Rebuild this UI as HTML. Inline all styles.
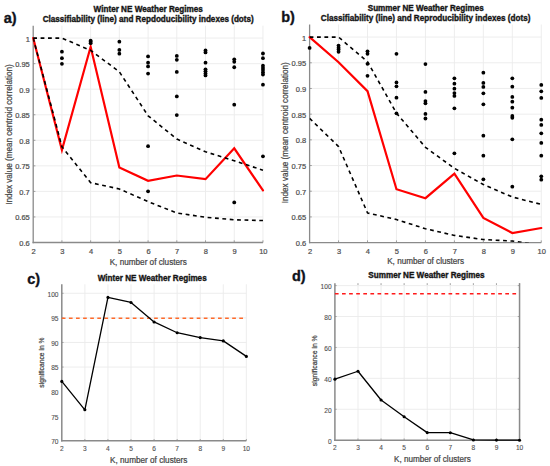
<!DOCTYPE html>
<html><head><meta charset="utf-8"><style>
html,body{margin:0;padding:0;background:#fff;overflow:hidden;}
svg{display:block;font-family:"Liberation Sans", sans-serif;}
</style></head><body>
<svg width="550" height="466" viewBox="0 0 550 466">
<rect width="550" height="466" fill="#fff"/>
<line x1="61.92" y1="25.70" x2="61.92" y2="242.50" stroke="#ebebeb" stroke-width="0.9" />
<line x1="90.64" y1="25.70" x2="90.64" y2="242.50" stroke="#ebebeb" stroke-width="0.9" />
<line x1="119.36" y1="25.70" x2="119.36" y2="242.50" stroke="#ebebeb" stroke-width="0.9" />
<line x1="148.08" y1="25.70" x2="148.08" y2="242.50" stroke="#ebebeb" stroke-width="0.9" />
<line x1="176.80" y1="25.70" x2="176.80" y2="242.50" stroke="#ebebeb" stroke-width="0.9" />
<line x1="205.52" y1="25.70" x2="205.52" y2="242.50" stroke="#ebebeb" stroke-width="0.9" />
<line x1="234.24" y1="25.70" x2="234.24" y2="242.50" stroke="#ebebeb" stroke-width="0.9" />
<line x1="262.96" y1="25.70" x2="262.96" y2="242.50" stroke="#ebebeb" stroke-width="0.9" />
<line x1="33.20" y1="216.95" x2="262.96" y2="216.95" stroke="#ebebeb" stroke-width="0.9" />
<line x1="33.20" y1="191.40" x2="262.96" y2="191.40" stroke="#ebebeb" stroke-width="0.9" />
<line x1="33.20" y1="165.85" x2="262.96" y2="165.85" stroke="#ebebeb" stroke-width="0.9" />
<line x1="33.20" y1="140.30" x2="262.96" y2="140.30" stroke="#ebebeb" stroke-width="0.9" />
<line x1="33.20" y1="114.75" x2="262.96" y2="114.75" stroke="#ebebeb" stroke-width="0.9" />
<line x1="33.20" y1="89.20" x2="262.96" y2="89.20" stroke="#ebebeb" stroke-width="0.9" />
<line x1="33.20" y1="63.65" x2="262.96" y2="63.65" stroke="#ebebeb" stroke-width="0.9" />
<line x1="33.20" y1="38.10" x2="262.96" y2="38.10" stroke="#ebebeb" stroke-width="0.9" />
<line x1="61.92" y1="242.50" x2="61.92" y2="240.30" stroke="#8a8a8a" stroke-width="0.8" />
<line x1="90.64" y1="242.50" x2="90.64" y2="240.30" stroke="#8a8a8a" stroke-width="0.8" />
<line x1="119.36" y1="242.50" x2="119.36" y2="240.30" stroke="#8a8a8a" stroke-width="0.8" />
<line x1="148.08" y1="242.50" x2="148.08" y2="240.30" stroke="#8a8a8a" stroke-width="0.8" />
<line x1="176.80" y1="242.50" x2="176.80" y2="240.30" stroke="#8a8a8a" stroke-width="0.8" />
<line x1="205.52" y1="242.50" x2="205.52" y2="240.30" stroke="#8a8a8a" stroke-width="0.8" />
<line x1="234.24" y1="242.50" x2="234.24" y2="240.30" stroke="#8a8a8a" stroke-width="0.8" />
<line x1="262.96" y1="242.50" x2="262.96" y2="240.30" stroke="#8a8a8a" stroke-width="0.8" />
<line x1="33.20" y1="216.95" x2="35.40" y2="216.95" stroke="#8a8a8a" stroke-width="0.8" />
<line x1="33.20" y1="191.40" x2="35.40" y2="191.40" stroke="#8a8a8a" stroke-width="0.8" />
<line x1="33.20" y1="165.85" x2="35.40" y2="165.85" stroke="#8a8a8a" stroke-width="0.8" />
<line x1="33.20" y1="140.30" x2="35.40" y2="140.30" stroke="#8a8a8a" stroke-width="0.8" />
<line x1="33.20" y1="114.75" x2="35.40" y2="114.75" stroke="#8a8a8a" stroke-width="0.8" />
<line x1="33.20" y1="89.20" x2="35.40" y2="89.20" stroke="#8a8a8a" stroke-width="0.8" />
<line x1="33.20" y1="63.65" x2="35.40" y2="63.65" stroke="#8a8a8a" stroke-width="0.8" />
<line x1="33.20" y1="38.10" x2="35.40" y2="38.10" stroke="#8a8a8a" stroke-width="0.8" />
<line x1="33.20" y1="25.70" x2="33.20" y2="243.15" stroke="#8a8a8a" stroke-width="1.3" />
<line x1="32.55" y1="242.50" x2="262.96" y2="242.50" stroke="#8a8a8a" stroke-width="1.3" />
<polyline points="33.20,38.10 61.92,150.01 90.64,46.79 119.36,167.59 148.08,180.82 176.80,175.51 205.52,179.19 234.24,148.32 262.96,190.38" fill="none" stroke="#ff0000" stroke-width="2.2" stroke-linejoin="round" stroke-linecap="round" style="stroke-linejoin:miter;stroke-miterlimit:6"/>
<clipPath id="ca"><rect x="33.20" y="25.70" width="232.76" height="216.80"/></clipPath>
<g clip-path="url(#ca)">
<polyline points="33.20,38.10 61.92,38.10 90.64,50.36 119.36,71.83 148.08,115.77 176.80,139.02 205.52,151.80 234.24,160.74 262.96,170.19" fill="none" stroke="#000" stroke-width="1.6" stroke-linejoin="round" stroke-dasharray="3.8 3.6"/>
<polyline points="33.20,38.10 61.92,146.69 90.64,182.71 119.36,189.00 148.08,201.62 176.80,213.02 205.52,217.26 234.24,219.76 262.96,220.53" fill="none" stroke="#000" stroke-width="1.6" stroke-linejoin="round" stroke-dasharray="3.8 3.6"/>
</g>
<circle cx="61.92" cy="51.69" r="1.9" fill="#000"/>
<circle cx="61.92" cy="58.18" r="1.9" fill="#000"/>
<circle cx="61.92" cy="63.80" r="1.9" fill="#000"/>
<circle cx="90.64" cy="40.66" r="1.9" fill="#000"/>
<circle cx="90.64" cy="41.68" r="1.9" fill="#000"/>
<circle cx="90.64" cy="43.21" r="1.9" fill="#000"/>
<circle cx="119.36" cy="41.68" r="1.9" fill="#000"/>
<circle cx="119.36" cy="49.90" r="1.9" fill="#000"/>
<circle cx="119.36" cy="53.69" r="1.9" fill="#000"/>
<circle cx="148.08" cy="56.39" r="1.9" fill="#000"/>
<circle cx="148.08" cy="62.63" r="1.9" fill="#000"/>
<circle cx="148.08" cy="66.41" r="1.9" fill="#000"/>
<circle cx="148.08" cy="73.61" r="1.9" fill="#000"/>
<circle cx="148.08" cy="146.18" r="1.9" fill="#000"/>
<circle cx="148.08" cy="191.30" r="1.9" fill="#000"/>
<circle cx="176.80" cy="55.88" r="1.9" fill="#000"/>
<circle cx="176.80" cy="59.82" r="1.9" fill="#000"/>
<circle cx="176.80" cy="71.88" r="1.9" fill="#000"/>
<circle cx="176.80" cy="96.41" r="1.9" fill="#000"/>
<circle cx="176.80" cy="115.11" r="1.9" fill="#000"/>
<circle cx="205.52" cy="50.42" r="1.9" fill="#000"/>
<circle cx="205.52" cy="52.41" r="1.9" fill="#000"/>
<circle cx="205.52" cy="62.63" r="1.9" fill="#000"/>
<circle cx="205.52" cy="69.30" r="1.9" fill="#000"/>
<circle cx="205.52" cy="71.30" r="1.9" fill="#000"/>
<circle cx="205.52" cy="73.40" r="1.9" fill="#000"/>
<circle cx="205.52" cy="75.40" r="1.9" fill="#000"/>
<circle cx="234.24" cy="59.31" r="1.9" fill="#000"/>
<circle cx="234.24" cy="61.81" r="1.9" fill="#000"/>
<circle cx="234.24" cy="67.23" r="1.9" fill="#000"/>
<circle cx="234.24" cy="104.68" r="1.9" fill="#000"/>
<circle cx="234.24" cy="202.39" r="1.9" fill="#000"/>
<circle cx="262.96" cy="53.48" r="1.9" fill="#000"/>
<circle cx="262.96" cy="58.18" r="1.9" fill="#000"/>
<circle cx="262.96" cy="65.70" r="1.9" fill="#000"/>
<circle cx="262.96" cy="67.90" r="1.9" fill="#000"/>
<circle cx="262.96" cy="70.10" r="1.9" fill="#000"/>
<circle cx="262.96" cy="72.30" r="1.9" fill="#000"/>
<circle cx="262.96" cy="74.50" r="1.9" fill="#000"/>
<circle cx="262.96" cy="84.70" r="1.9" fill="#000"/>
<circle cx="262.96" cy="156.29" r="1.9" fill="#000"/>
<text transform="translate(33.60,253.80)" font-size="7.5" fill="#505050" text-anchor="middle" font-weight="normal" stroke="#505050" stroke-width="0.22">2</text>
<text transform="translate(62.32,253.80)" font-size="7.5" fill="#505050" text-anchor="middle" font-weight="normal" stroke="#505050" stroke-width="0.22">3</text>
<text transform="translate(91.04,253.80)" font-size="7.5" fill="#505050" text-anchor="middle" font-weight="normal" stroke="#505050" stroke-width="0.22">4</text>
<text transform="translate(119.76,253.80)" font-size="7.5" fill="#505050" text-anchor="middle" font-weight="normal" stroke="#505050" stroke-width="0.22">5</text>
<text transform="translate(148.48,253.80)" font-size="7.5" fill="#505050" text-anchor="middle" font-weight="normal" stroke="#505050" stroke-width="0.22">6</text>
<text transform="translate(177.20,253.80)" font-size="7.5" fill="#505050" text-anchor="middle" font-weight="normal" stroke="#505050" stroke-width="0.22">7</text>
<text transform="translate(205.92,253.80)" font-size="7.5" fill="#505050" text-anchor="middle" font-weight="normal" stroke="#505050" stroke-width="0.22">8</text>
<text transform="translate(234.64,253.80)" font-size="7.5" fill="#505050" text-anchor="middle" font-weight="normal" stroke="#505050" stroke-width="0.22">9</text>
<text transform="translate(263.36,253.80)" font-size="7.5" fill="#505050" text-anchor="middle" font-weight="normal" stroke="#505050" stroke-width="0.22">10</text>
<text transform="translate(29.80,246.00)" font-size="7.5" fill="#505050" text-anchor="end" font-weight="normal" stroke="#505050" stroke-width="0.22">0.6</text>
<text transform="translate(29.80,220.45)" font-size="7.5" fill="#505050" text-anchor="end" font-weight="normal" stroke="#505050" stroke-width="0.22">0.65</text>
<text transform="translate(29.80,194.90)" font-size="7.5" fill="#505050" text-anchor="end" font-weight="normal" stroke="#505050" stroke-width="0.22">0.7</text>
<text transform="translate(29.80,169.35)" font-size="7.5" fill="#505050" text-anchor="end" font-weight="normal" stroke="#505050" stroke-width="0.22">0.75</text>
<text transform="translate(29.80,143.80)" font-size="7.5" fill="#505050" text-anchor="end" font-weight="normal" stroke="#505050" stroke-width="0.22">0.8</text>
<text transform="translate(29.80,118.25)" font-size="7.5" fill="#505050" text-anchor="end" font-weight="normal" stroke="#505050" stroke-width="0.22">0.85</text>
<text transform="translate(29.80,92.70)" font-size="7.5" fill="#505050" text-anchor="end" font-weight="normal" stroke="#505050" stroke-width="0.22">0.9</text>
<text transform="translate(29.80,67.15)" font-size="7.5" fill="#505050" text-anchor="end" font-weight="normal" stroke="#505050" stroke-width="0.22">0.95</text>
<text transform="translate(29.80,41.60)" font-size="7.5" fill="#505050" text-anchor="end" font-weight="normal" stroke="#505050" stroke-width="0.22">1</text>
<text transform="translate(148.20,11.60) scale(1,1.1)" font-size="8.1" fill="#151515" text-anchor="middle" font-weight="bold" textLength="109.20" lengthAdjust="spacingAndGlyphs" stroke="#151515" stroke-width="0.35">Winter NE Weather Regimes</text>
<text transform="translate(148.20,21.80) scale(1,1.1)" font-size="8.1" fill="#151515" text-anchor="middle" font-weight="bold" textLength="211.00" lengthAdjust="spacingAndGlyphs" stroke="#151515" stroke-width="0.35">Classifiability (line) and Repdoducibility indexes (dots)</text>
<text transform="translate(3.80,23.00)" font-size="14.5" fill="#10121a" text-anchor="start" font-weight="bold" stroke="#10121a" stroke-width="0.35">a)</text>
<text transform="translate(11.80,134.50) rotate(-90)" font-size="8.2" fill="#454545" text-anchor="middle" font-weight="normal" textLength="140.50" lengthAdjust="spacingAndGlyphs" stroke="#454545" stroke-width="0.22">Index value (mean centroid correlation)</text>
<text transform="translate(148.25,264.60) scale(1,1.04)" font-size="8.1" fill="#454545" text-anchor="middle" font-weight="normal" textLength="77.20" lengthAdjust="spacingAndGlyphs" stroke="#454545" stroke-width="0.22">K, number of clusters</text>
<line x1="338.56" y1="24.50" x2="338.56" y2="242.60" stroke="#ebebeb" stroke-width="0.9" />
<line x1="367.52" y1="24.50" x2="367.52" y2="242.60" stroke="#ebebeb" stroke-width="0.9" />
<line x1="396.48" y1="24.50" x2="396.48" y2="242.60" stroke="#ebebeb" stroke-width="0.9" />
<line x1="425.44" y1="24.50" x2="425.44" y2="242.60" stroke="#ebebeb" stroke-width="0.9" />
<line x1="454.40" y1="24.50" x2="454.40" y2="242.60" stroke="#ebebeb" stroke-width="0.9" />
<line x1="483.36" y1="24.50" x2="483.36" y2="242.60" stroke="#ebebeb" stroke-width="0.9" />
<line x1="512.32" y1="24.50" x2="512.32" y2="242.60" stroke="#ebebeb" stroke-width="0.9" />
<line x1="541.28" y1="24.50" x2="541.28" y2="242.60" stroke="#ebebeb" stroke-width="0.9" />
<line x1="309.60" y1="216.91" x2="541.28" y2="216.91" stroke="#ebebeb" stroke-width="0.9" />
<line x1="309.60" y1="191.23" x2="541.28" y2="191.23" stroke="#ebebeb" stroke-width="0.9" />
<line x1="309.60" y1="165.54" x2="541.28" y2="165.54" stroke="#ebebeb" stroke-width="0.9" />
<line x1="309.60" y1="139.85" x2="541.28" y2="139.85" stroke="#ebebeb" stroke-width="0.9" />
<line x1="309.60" y1="114.16" x2="541.28" y2="114.16" stroke="#ebebeb" stroke-width="0.9" />
<line x1="309.60" y1="88.47" x2="541.28" y2="88.47" stroke="#ebebeb" stroke-width="0.9" />
<line x1="309.60" y1="62.79" x2="541.28" y2="62.79" stroke="#ebebeb" stroke-width="0.9" />
<line x1="309.60" y1="37.10" x2="541.28" y2="37.10" stroke="#ebebeb" stroke-width="0.9" />
<line x1="338.56" y1="242.60" x2="338.56" y2="240.40" stroke="#8a8a8a" stroke-width="0.8" />
<line x1="367.52" y1="242.60" x2="367.52" y2="240.40" stroke="#8a8a8a" stroke-width="0.8" />
<line x1="396.48" y1="242.60" x2="396.48" y2="240.40" stroke="#8a8a8a" stroke-width="0.8" />
<line x1="425.44" y1="242.60" x2="425.44" y2="240.40" stroke="#8a8a8a" stroke-width="0.8" />
<line x1="454.40" y1="242.60" x2="454.40" y2="240.40" stroke="#8a8a8a" stroke-width="0.8" />
<line x1="483.36" y1="242.60" x2="483.36" y2="240.40" stroke="#8a8a8a" stroke-width="0.8" />
<line x1="512.32" y1="242.60" x2="512.32" y2="240.40" stroke="#8a8a8a" stroke-width="0.8" />
<line x1="541.28" y1="242.60" x2="541.28" y2="240.40" stroke="#8a8a8a" stroke-width="0.8" />
<line x1="309.60" y1="216.91" x2="311.80" y2="216.91" stroke="#8a8a8a" stroke-width="0.8" />
<line x1="309.60" y1="191.23" x2="311.80" y2="191.23" stroke="#8a8a8a" stroke-width="0.8" />
<line x1="309.60" y1="165.54" x2="311.80" y2="165.54" stroke="#8a8a8a" stroke-width="0.8" />
<line x1="309.60" y1="139.85" x2="311.80" y2="139.85" stroke="#8a8a8a" stroke-width="0.8" />
<line x1="309.60" y1="114.16" x2="311.80" y2="114.16" stroke="#8a8a8a" stroke-width="0.8" />
<line x1="309.60" y1="88.47" x2="311.80" y2="88.47" stroke="#8a8a8a" stroke-width="0.8" />
<line x1="309.60" y1="62.79" x2="311.80" y2="62.79" stroke="#8a8a8a" stroke-width="0.8" />
<line x1="309.60" y1="37.10" x2="311.80" y2="37.10" stroke="#8a8a8a" stroke-width="0.8" />
<line x1="309.60" y1="24.50" x2="309.60" y2="243.25" stroke="#8a8a8a" stroke-width="1.3" />
<line x1="308.95" y1="242.60" x2="541.28" y2="242.60" stroke="#8a8a8a" stroke-width="1.3" />
<polyline points="309.60,37.10 338.56,62.27 367.52,91.15 396.48,189.22 425.44,198.21 454.40,173.76 483.36,217.94 512.32,232.99 541.28,228.01" fill="none" stroke="#ff0000" stroke-width="2.2" stroke-linejoin="round" stroke-linecap="round" style="stroke-linejoin:miter;stroke-miterlimit:6"/>
<clipPath id="cb"><rect x="309.60" y="24.50" width="234.68" height="218.10"/></clipPath>
<g clip-path="url(#cb)">
<polyline points="309.60,37.10 338.56,37.10 367.52,61.76 396.48,113.13 425.44,147.30 454.40,168.36 483.36,184.55 512.32,197.03 541.28,204.38" fill="none" stroke="#000" stroke-width="1.6" stroke-linejoin="round" stroke-dasharray="3.8 3.6"/>
<polyline points="309.60,118.38 338.56,146.58 367.52,212.91 396.48,219.58 425.44,228.73 454.40,235.41 483.36,239.52 512.32,241.06 541.28,245.17" fill="none" stroke="#000" stroke-width="1.6" stroke-linejoin="round" stroke-dasharray="3.8 3.6"/>
</g>
<circle cx="309.60" cy="47.89" r="1.9" fill="#000"/>
<circle cx="338.56" cy="45.58" r="1.9" fill="#000"/>
<circle cx="338.56" cy="47.79" r="1.9" fill="#000"/>
<circle cx="338.56" cy="49.48" r="1.9" fill="#000"/>
<circle cx="338.56" cy="51.79" r="1.9" fill="#000"/>
<circle cx="367.52" cy="51.30" r="1.9" fill="#000"/>
<circle cx="367.52" cy="53.80" r="1.9" fill="#000"/>
<circle cx="367.52" cy="63.80" r="1.9" fill="#000"/>
<circle cx="367.52" cy="75.80" r="1.9" fill="#000"/>
<circle cx="396.48" cy="53.80" r="1.9" fill="#000"/>
<circle cx="396.48" cy="82.40" r="1.9" fill="#000"/>
<circle cx="396.48" cy="86.30" r="1.9" fill="#000"/>
<circle cx="396.48" cy="97.70" r="1.9" fill="#000"/>
<circle cx="396.48" cy="113.30" r="1.9" fill="#000"/>
<circle cx="425.44" cy="64.10" r="1.9" fill="#000"/>
<circle cx="425.44" cy="91.90" r="1.9" fill="#000"/>
<circle cx="425.44" cy="101.10" r="1.9" fill="#000"/>
<circle cx="425.44" cy="103.30" r="1.9" fill="#000"/>
<circle cx="425.44" cy="113.90" r="1.9" fill="#000"/>
<circle cx="425.44" cy="118.50" r="1.9" fill="#000"/>
<circle cx="454.40" cy="78.30" r="1.9" fill="#000"/>
<circle cx="454.40" cy="83.70" r="1.9" fill="#000"/>
<circle cx="454.40" cy="88.70" r="1.9" fill="#000"/>
<circle cx="454.40" cy="93.10" r="1.9" fill="#000"/>
<circle cx="454.40" cy="95.90" r="1.9" fill="#000"/>
<circle cx="454.40" cy="108.30" r="1.9" fill="#000"/>
<circle cx="454.40" cy="153.30" r="1.9" fill="#000"/>
<circle cx="483.36" cy="72.70" r="1.9" fill="#000"/>
<circle cx="483.36" cy="82.90" r="1.9" fill="#000"/>
<circle cx="483.36" cy="86.90" r="1.9" fill="#000"/>
<circle cx="483.36" cy="93.30" r="1.9" fill="#000"/>
<circle cx="483.36" cy="104.30" r="1.9" fill="#000"/>
<circle cx="483.36" cy="135.70" r="1.9" fill="#000"/>
<circle cx="483.36" cy="155.70" r="1.9" fill="#000"/>
<circle cx="483.36" cy="179.30" r="1.9" fill="#000"/>
<circle cx="512.32" cy="78.30" r="1.9" fill="#000"/>
<circle cx="512.32" cy="86.70" r="1.9" fill="#000"/>
<circle cx="512.32" cy="96.90" r="1.9" fill="#000"/>
<circle cx="512.32" cy="101.70" r="1.9" fill="#000"/>
<circle cx="512.32" cy="107.70" r="1.9" fill="#000"/>
<circle cx="512.32" cy="115.90" r="1.9" fill="#000"/>
<circle cx="512.32" cy="117.80" r="1.9" fill="#000"/>
<circle cx="512.32" cy="139.30" r="1.9" fill="#000"/>
<circle cx="512.32" cy="186.70" r="1.9" fill="#000"/>
<circle cx="541.28" cy="84.90" r="1.9" fill="#000"/>
<circle cx="541.28" cy="91.30" r="1.9" fill="#000"/>
<circle cx="541.28" cy="97.90" r="1.9" fill="#000"/>
<circle cx="541.28" cy="119.70" r="1.9" fill="#000"/>
<circle cx="541.28" cy="124.90" r="1.9" fill="#000"/>
<circle cx="541.28" cy="133.30" r="1.9" fill="#000"/>
<circle cx="541.28" cy="142.90" r="1.9" fill="#000"/>
<circle cx="541.28" cy="155.70" r="1.9" fill="#000"/>
<circle cx="541.28" cy="176.30" r="1.9" fill="#000"/>
<circle cx="541.28" cy="179.70" r="1.9" fill="#000"/>
<text transform="translate(310.00,253.90)" font-size="7.5" fill="#505050" text-anchor="middle" font-weight="normal" stroke="#505050" stroke-width="0.22">2</text>
<text transform="translate(338.96,253.90)" font-size="7.5" fill="#505050" text-anchor="middle" font-weight="normal" stroke="#505050" stroke-width="0.22">3</text>
<text transform="translate(367.92,253.90)" font-size="7.5" fill="#505050" text-anchor="middle" font-weight="normal" stroke="#505050" stroke-width="0.22">4</text>
<text transform="translate(396.88,253.90)" font-size="7.5" fill="#505050" text-anchor="middle" font-weight="normal" stroke="#505050" stroke-width="0.22">5</text>
<text transform="translate(425.84,253.90)" font-size="7.5" fill="#505050" text-anchor="middle" font-weight="normal" stroke="#505050" stroke-width="0.22">6</text>
<text transform="translate(454.80,253.90)" font-size="7.5" fill="#505050" text-anchor="middle" font-weight="normal" stroke="#505050" stroke-width="0.22">7</text>
<text transform="translate(483.76,253.90)" font-size="7.5" fill="#505050" text-anchor="middle" font-weight="normal" stroke="#505050" stroke-width="0.22">8</text>
<text transform="translate(512.72,253.90)" font-size="7.5" fill="#505050" text-anchor="middle" font-weight="normal" stroke="#505050" stroke-width="0.22">9</text>
<text transform="translate(541.68,253.90)" font-size="7.5" fill="#505050" text-anchor="middle" font-weight="normal" stroke="#505050" stroke-width="0.22">10</text>
<text transform="translate(306.20,246.10)" font-size="7.5" fill="#505050" text-anchor="end" font-weight="normal" stroke="#505050" stroke-width="0.22">0.6</text>
<text transform="translate(306.20,220.41)" font-size="7.5" fill="#505050" text-anchor="end" font-weight="normal" stroke="#505050" stroke-width="0.22">0.65</text>
<text transform="translate(306.20,194.73)" font-size="7.5" fill="#505050" text-anchor="end" font-weight="normal" stroke="#505050" stroke-width="0.22">0.7</text>
<text transform="translate(306.20,169.04)" font-size="7.5" fill="#505050" text-anchor="end" font-weight="normal" stroke="#505050" stroke-width="0.22">0.75</text>
<text transform="translate(306.20,143.35)" font-size="7.5" fill="#505050" text-anchor="end" font-weight="normal" stroke="#505050" stroke-width="0.22">0.8</text>
<text transform="translate(306.20,117.66)" font-size="7.5" fill="#505050" text-anchor="end" font-weight="normal" stroke="#505050" stroke-width="0.22">0.85</text>
<text transform="translate(306.20,91.97)" font-size="7.5" fill="#505050" text-anchor="end" font-weight="normal" stroke="#505050" stroke-width="0.22">0.9</text>
<text transform="translate(306.20,66.29)" font-size="7.5" fill="#505050" text-anchor="end" font-weight="normal" stroke="#505050" stroke-width="0.22">0.95</text>
<text transform="translate(306.20,40.60)" font-size="7.5" fill="#505050" text-anchor="end" font-weight="normal" stroke="#505050" stroke-width="0.22">1</text>
<text transform="translate(425.70,10.50) scale(1,1.1)" font-size="8.1" fill="#151515" text-anchor="middle" font-weight="bold" textLength="115.90" lengthAdjust="spacingAndGlyphs" stroke="#151515" stroke-width="0.35">Summer NE Weather Regimes</text>
<text transform="translate(425.60,21.30) scale(1,1.1)" font-size="8.1" fill="#151515" text-anchor="middle" font-weight="bold" textLength="209.70" lengthAdjust="spacingAndGlyphs" stroke="#151515" stroke-width="0.35">Classifiability (line) and Reproducibility indexes (dots)</text>
<text transform="translate(281.20,21.60)" font-size="14.5" fill="#10121a" text-anchor="start" font-weight="bold" stroke="#10121a" stroke-width="0.35">b)</text>
<text transform="translate(288.10,132.75) rotate(-90)" font-size="8.2" fill="#454545" text-anchor="middle" font-weight="normal" textLength="141.00" lengthAdjust="spacingAndGlyphs" stroke="#454545" stroke-width="0.22">Index value (mean centroid correlation)</text>
<text transform="translate(425.65,264.40) scale(1,1.04)" font-size="8.1" fill="#454545" text-anchor="middle" font-weight="normal" textLength="77.00" lengthAdjust="spacingAndGlyphs" stroke="#454545" stroke-width="0.22">K, number of clusters</text>
<line x1="84.87" y1="284.30" x2="84.87" y2="440.80" stroke="#ebebeb" stroke-width="0.9" />
<line x1="107.94" y1="284.30" x2="107.94" y2="440.80" stroke="#ebebeb" stroke-width="0.9" />
<line x1="131.01" y1="284.30" x2="131.01" y2="440.80" stroke="#ebebeb" stroke-width="0.9" />
<line x1="154.08" y1="284.30" x2="154.08" y2="440.80" stroke="#ebebeb" stroke-width="0.9" />
<line x1="177.15" y1="284.30" x2="177.15" y2="440.80" stroke="#ebebeb" stroke-width="0.9" />
<line x1="200.22" y1="284.30" x2="200.22" y2="440.80" stroke="#ebebeb" stroke-width="0.9" />
<line x1="223.29" y1="284.30" x2="223.29" y2="440.80" stroke="#ebebeb" stroke-width="0.9" />
<line x1="246.36" y1="284.30" x2="246.36" y2="440.80" stroke="#ebebeb" stroke-width="0.9" />
<line x1="61.80" y1="367.05" x2="246.36" y2="367.05" stroke="#ebebeb" stroke-width="0.9" />
<line x1="61.80" y1="342.46" x2="246.36" y2="342.46" stroke="#ebebeb" stroke-width="0.9" />
<line x1="61.80" y1="317.88" x2="246.36" y2="317.88" stroke="#ebebeb" stroke-width="0.9" />
<line x1="61.80" y1="293.29" x2="246.36" y2="293.29" stroke="#ebebeb" stroke-width="0.9" />
<line x1="84.87" y1="440.80" x2="84.87" y2="439.00" stroke="#8a8a8a" stroke-width="0.7" />
<line x1="107.94" y1="440.80" x2="107.94" y2="439.00" stroke="#8a8a8a" stroke-width="0.7" />
<line x1="131.01" y1="440.80" x2="131.01" y2="439.00" stroke="#8a8a8a" stroke-width="0.7" />
<line x1="154.08" y1="440.80" x2="154.08" y2="439.00" stroke="#8a8a8a" stroke-width="0.7" />
<line x1="177.15" y1="440.80" x2="177.15" y2="439.00" stroke="#8a8a8a" stroke-width="0.7" />
<line x1="200.22" y1="440.80" x2="200.22" y2="439.00" stroke="#8a8a8a" stroke-width="0.7" />
<line x1="223.29" y1="440.80" x2="223.29" y2="439.00" stroke="#8a8a8a" stroke-width="0.7" />
<line x1="246.36" y1="440.80" x2="246.36" y2="439.00" stroke="#8a8a8a" stroke-width="0.7" />
<line x1="61.80" y1="367.05" x2="63.60" y2="367.05" stroke="#8a8a8a" stroke-width="0.7" />
<line x1="61.80" y1="342.46" x2="63.60" y2="342.46" stroke="#8a8a8a" stroke-width="0.7" />
<line x1="61.80" y1="317.88" x2="63.60" y2="317.88" stroke="#8a8a8a" stroke-width="0.7" />
<line x1="61.80" y1="293.29" x2="63.60" y2="293.29" stroke="#8a8a8a" stroke-width="0.7" />
<line x1="61.80" y1="284.30" x2="61.80" y2="441.50" stroke="#8a8a8a" stroke-width="1.5" />
<line x1="61.10" y1="440.80" x2="246.36" y2="440.80" stroke="#8a8a8a" stroke-width="1.5" />
<line x1="61.80" y1="318.18" x2="246.36" y2="318.18" stroke="#ff6a2a" stroke-width="1.5" stroke-dasharray="3.7 3.4"/>
<polyline points="61.80,381.40 84.87,409.82 107.94,297.42 131.01,302.48 154.08,321.96 177.15,332.72 200.22,337.59 223.29,340.89 246.36,356.38" fill="none" stroke="#000" stroke-width="1.3" stroke-linejoin="round" />
<circle cx="61.80" cy="381.40" r="1.55" fill="#000"/>
<circle cx="84.87" cy="409.82" r="1.55" fill="#000"/>
<circle cx="107.94" cy="297.42" r="1.55" fill="#000"/>
<circle cx="131.01" cy="302.48" r="1.55" fill="#000"/>
<circle cx="154.08" cy="321.96" r="1.55" fill="#000"/>
<circle cx="177.15" cy="332.72" r="1.55" fill="#000"/>
<circle cx="200.22" cy="337.59" r="1.55" fill="#000"/>
<circle cx="223.29" cy="340.89" r="1.55" fill="#000"/>
<circle cx="246.36" cy="356.38" r="1.55" fill="#000"/>
<text transform="translate(61.80,450.60) scale(1,1.05)" font-size="6.6" fill="#505050" text-anchor="middle" font-weight="normal" stroke="#505050" stroke-width="0.1">2</text>
<text transform="translate(84.87,450.60) scale(1,1.05)" font-size="6.6" fill="#505050" text-anchor="middle" font-weight="normal" stroke="#505050" stroke-width="0.1">3</text>
<text transform="translate(107.94,450.60) scale(1,1.05)" font-size="6.6" fill="#505050" text-anchor="middle" font-weight="normal" stroke="#505050" stroke-width="0.1">4</text>
<text transform="translate(131.01,450.60) scale(1,1.05)" font-size="6.6" fill="#505050" text-anchor="middle" font-weight="normal" stroke="#505050" stroke-width="0.1">5</text>
<text transform="translate(154.08,450.60) scale(1,1.05)" font-size="6.6" fill="#505050" text-anchor="middle" font-weight="normal" stroke="#505050" stroke-width="0.1">6</text>
<text transform="translate(177.15,450.60) scale(1,1.05)" font-size="6.6" fill="#505050" text-anchor="middle" font-weight="normal" stroke="#505050" stroke-width="0.1">7</text>
<text transform="translate(200.22,450.60) scale(1,1.05)" font-size="6.6" fill="#505050" text-anchor="middle" font-weight="normal" stroke="#505050" stroke-width="0.1">8</text>
<text transform="translate(223.29,450.60) scale(1,1.05)" font-size="6.6" fill="#505050" text-anchor="middle" font-weight="normal" stroke="#505050" stroke-width="0.1">9</text>
<text transform="translate(246.36,450.60) scale(1,1.05)" font-size="6.6" fill="#505050" text-anchor="middle" font-weight="normal" stroke="#505050" stroke-width="0.1">10</text>
<text transform="translate(58.50,444.20) scale(1,1.05)" font-size="6.6" fill="#505050" text-anchor="end" font-weight="normal" stroke="#505050" stroke-width="0.1">70</text>
<text transform="translate(58.50,419.62) scale(1,1.05)" font-size="6.6" fill="#505050" text-anchor="end" font-weight="normal" stroke="#505050" stroke-width="0.1">75</text>
<text transform="translate(58.50,395.03) scale(1,1.05)" font-size="6.6" fill="#505050" text-anchor="end" font-weight="normal" stroke="#505050" stroke-width="0.1">80</text>
<text transform="translate(58.50,370.44) scale(1,1.05)" font-size="6.6" fill="#505050" text-anchor="end" font-weight="normal" stroke="#505050" stroke-width="0.1">85</text>
<text transform="translate(58.50,345.86) scale(1,1.05)" font-size="6.6" fill="#505050" text-anchor="end" font-weight="normal" stroke="#505050" stroke-width="0.1">90</text>
<text transform="translate(58.50,321.27) scale(1,1.05)" font-size="6.6" fill="#505050" text-anchor="end" font-weight="normal" stroke="#505050" stroke-width="0.1">95</text>
<text transform="translate(58.50,296.69) scale(1,1.05)" font-size="6.6" fill="#505050" text-anchor="end" font-weight="normal" stroke="#505050" stroke-width="0.1">100</text>
<text transform="translate(152.20,281.10) scale(1,1.1)" font-size="8.1" fill="#151515" text-anchor="middle" font-weight="bold" textLength="108.90" lengthAdjust="spacingAndGlyphs" stroke="#151515" stroke-width="0.35">Winter NE Weather Regimes</text>
<text transform="translate(27.20,283.80)" font-size="14.5" fill="#10121a" text-anchor="start" font-weight="bold" stroke="#10121a" stroke-width="0.35">c)</text>
<text transform="translate(44.00,362.60) rotate(-90) scale(1,1.1)" font-size="7.0" fill="#454545" text-anchor="middle" font-weight="normal" textLength="50.30" lengthAdjust="spacingAndGlyphs" stroke="#454545" stroke-width="0.22">significance in %</text>
<text transform="translate(148.70,463.00) scale(1,1.04)" font-size="8.1" fill="#454545" text-anchor="middle" font-weight="normal" textLength="77.30" lengthAdjust="spacingAndGlyphs" stroke="#454545" stroke-width="0.22">K, number of clusters</text>
<line x1="357.98" y1="283.20" x2="357.98" y2="440.20" stroke="#ebebeb" stroke-width="0.9" />
<line x1="381.06" y1="283.20" x2="381.06" y2="440.20" stroke="#ebebeb" stroke-width="0.9" />
<line x1="404.14" y1="283.20" x2="404.14" y2="440.20" stroke="#ebebeb" stroke-width="0.9" />
<line x1="427.22" y1="283.20" x2="427.22" y2="440.20" stroke="#ebebeb" stroke-width="0.9" />
<line x1="450.30" y1="283.20" x2="450.30" y2="440.20" stroke="#ebebeb" stroke-width="0.9" />
<line x1="473.38" y1="283.20" x2="473.38" y2="440.20" stroke="#ebebeb" stroke-width="0.9" />
<line x1="496.46" y1="283.20" x2="496.46" y2="440.20" stroke="#ebebeb" stroke-width="0.9" />
<line x1="519.54" y1="283.20" x2="519.54" y2="440.20" stroke="#ebebeb" stroke-width="0.9" />
<line x1="334.90" y1="409.28" x2="519.54" y2="409.28" stroke="#ebebeb" stroke-width="0.9" />
<line x1="334.90" y1="378.36" x2="519.54" y2="378.36" stroke="#ebebeb" stroke-width="0.9" />
<line x1="334.90" y1="347.44" x2="519.54" y2="347.44" stroke="#ebebeb" stroke-width="0.9" />
<line x1="334.90" y1="316.52" x2="519.54" y2="316.52" stroke="#ebebeb" stroke-width="0.9" />
<line x1="334.90" y1="285.60" x2="519.54" y2="285.60" stroke="#ebebeb" stroke-width="0.9" />
<line x1="357.98" y1="440.20" x2="357.98" y2="438.40" stroke="#8a8a8a" stroke-width="0.7" />
<line x1="357.98" y1="283.20" x2="357.98" y2="285.00" stroke="#8a8a8a" stroke-width="0.7" />
<line x1="381.06" y1="440.20" x2="381.06" y2="438.40" stroke="#8a8a8a" stroke-width="0.7" />
<line x1="381.06" y1="283.20" x2="381.06" y2="285.00" stroke="#8a8a8a" stroke-width="0.7" />
<line x1="404.14" y1="440.20" x2="404.14" y2="438.40" stroke="#8a8a8a" stroke-width="0.7" />
<line x1="404.14" y1="283.20" x2="404.14" y2="285.00" stroke="#8a8a8a" stroke-width="0.7" />
<line x1="427.22" y1="440.20" x2="427.22" y2="438.40" stroke="#8a8a8a" stroke-width="0.7" />
<line x1="427.22" y1="283.20" x2="427.22" y2="285.00" stroke="#8a8a8a" stroke-width="0.7" />
<line x1="450.30" y1="440.20" x2="450.30" y2="438.40" stroke="#8a8a8a" stroke-width="0.7" />
<line x1="450.30" y1="283.20" x2="450.30" y2="285.00" stroke="#8a8a8a" stroke-width="0.7" />
<line x1="473.38" y1="440.20" x2="473.38" y2="438.40" stroke="#8a8a8a" stroke-width="0.7" />
<line x1="473.38" y1="283.20" x2="473.38" y2="285.00" stroke="#8a8a8a" stroke-width="0.7" />
<line x1="496.46" y1="440.20" x2="496.46" y2="438.40" stroke="#8a8a8a" stroke-width="0.7" />
<line x1="496.46" y1="283.20" x2="496.46" y2="285.00" stroke="#8a8a8a" stroke-width="0.7" />
<line x1="519.54" y1="440.20" x2="519.54" y2="438.40" stroke="#8a8a8a" stroke-width="0.7" />
<line x1="519.54" y1="283.20" x2="519.54" y2="285.00" stroke="#8a8a8a" stroke-width="0.7" />
<line x1="334.90" y1="409.28" x2="336.70" y2="409.28" stroke="#8a8a8a" stroke-width="0.7" />
<line x1="519.54" y1="409.28" x2="517.74" y2="409.28" stroke="#8a8a8a" stroke-width="0.7" />
<line x1="334.90" y1="378.36" x2="336.70" y2="378.36" stroke="#8a8a8a" stroke-width="0.7" />
<line x1="519.54" y1="378.36" x2="517.74" y2="378.36" stroke="#8a8a8a" stroke-width="0.7" />
<line x1="334.90" y1="347.44" x2="336.70" y2="347.44" stroke="#8a8a8a" stroke-width="0.7" />
<line x1="519.54" y1="347.44" x2="517.74" y2="347.44" stroke="#8a8a8a" stroke-width="0.7" />
<line x1="334.90" y1="316.52" x2="336.70" y2="316.52" stroke="#8a8a8a" stroke-width="0.7" />
<line x1="519.54" y1="316.52" x2="517.74" y2="316.52" stroke="#8a8a8a" stroke-width="0.7" />
<line x1="334.90" y1="285.60" x2="336.70" y2="285.60" stroke="#8a8a8a" stroke-width="0.7" />
<line x1="519.54" y1="285.60" x2="517.74" y2="285.60" stroke="#8a8a8a" stroke-width="0.7" />
<line x1="334.90" y1="283.20" x2="334.90" y2="440.90" stroke="#8a8a8a" stroke-width="1.5" />
<line x1="334.20" y1="440.20" x2="520.24" y2="440.20" stroke="#8a8a8a" stroke-width="1.5" />
<line x1="519.54" y1="283.20" x2="519.54" y2="440.20" stroke="#8a8a8a" stroke-width="1.5" />
<line x1="334.90" y1="293.73" x2="519.54" y2="293.73" stroke="#ff1a1a" stroke-width="1.5" stroke-dasharray="3.7 3.4"/>
<polyline points="334.90,379.13 357.98,371.25 381.06,400.00 404.14,416.70 427.22,432.62 450.30,432.70 473.38,439.97 496.46,440.12 519.54,440.20" fill="none" stroke="#000" stroke-width="1.3" stroke-linejoin="round" />
<circle cx="334.90" cy="379.13" r="1.55" fill="#000"/>
<circle cx="357.98" cy="371.25" r="1.55" fill="#000"/>
<circle cx="381.06" cy="400.00" r="1.55" fill="#000"/>
<circle cx="404.14" cy="416.70" r="1.55" fill="#000"/>
<circle cx="427.22" cy="432.62" r="1.55" fill="#000"/>
<circle cx="450.30" cy="432.70" r="1.55" fill="#000"/>
<circle cx="473.38" cy="439.97" r="1.55" fill="#000"/>
<circle cx="496.46" cy="440.12" r="1.55" fill="#000"/>
<circle cx="519.54" cy="440.20" r="1.55" fill="#000"/>
<text transform="translate(334.90,450.00) scale(1,1.05)" font-size="6.6" fill="#505050" text-anchor="middle" font-weight="normal" stroke="#505050" stroke-width="0.1">2</text>
<text transform="translate(357.98,450.00) scale(1,1.05)" font-size="6.6" fill="#505050" text-anchor="middle" font-weight="normal" stroke="#505050" stroke-width="0.1">3</text>
<text transform="translate(381.06,450.00) scale(1,1.05)" font-size="6.6" fill="#505050" text-anchor="middle" font-weight="normal" stroke="#505050" stroke-width="0.1">4</text>
<text transform="translate(404.14,450.00) scale(1,1.05)" font-size="6.6" fill="#505050" text-anchor="middle" font-weight="normal" stroke="#505050" stroke-width="0.1">5</text>
<text transform="translate(427.22,450.00) scale(1,1.05)" font-size="6.6" fill="#505050" text-anchor="middle" font-weight="normal" stroke="#505050" stroke-width="0.1">6</text>
<text transform="translate(450.30,450.00) scale(1,1.05)" font-size="6.6" fill="#505050" text-anchor="middle" font-weight="normal" stroke="#505050" stroke-width="0.1">7</text>
<text transform="translate(473.38,450.00) scale(1,1.05)" font-size="6.6" fill="#505050" text-anchor="middle" font-weight="normal" stroke="#505050" stroke-width="0.1">8</text>
<text transform="translate(496.46,450.00) scale(1,1.05)" font-size="6.6" fill="#505050" text-anchor="middle" font-weight="normal" stroke="#505050" stroke-width="0.1">9</text>
<text transform="translate(519.54,450.00) scale(1,1.05)" font-size="6.6" fill="#505050" text-anchor="middle" font-weight="normal" stroke="#505050" stroke-width="0.1">10</text>
<text transform="translate(331.60,443.60) scale(1,1.05)" font-size="6.6" fill="#505050" text-anchor="end" font-weight="normal" stroke="#505050" stroke-width="0.1">0</text>
<text transform="translate(331.60,412.68) scale(1,1.05)" font-size="6.6" fill="#505050" text-anchor="end" font-weight="normal" stroke="#505050" stroke-width="0.1">20</text>
<text transform="translate(331.60,381.76) scale(1,1.05)" font-size="6.6" fill="#505050" text-anchor="end" font-weight="normal" stroke="#505050" stroke-width="0.1">40</text>
<text transform="translate(331.60,350.84) scale(1,1.05)" font-size="6.6" fill="#505050" text-anchor="end" font-weight="normal" stroke="#505050" stroke-width="0.1">60</text>
<text transform="translate(331.60,319.92) scale(1,1.05)" font-size="6.6" fill="#505050" text-anchor="end" font-weight="normal" stroke="#505050" stroke-width="0.1">80</text>
<text transform="translate(331.60,289.00) scale(1,1.05)" font-size="6.6" fill="#505050" text-anchor="end" font-weight="normal" stroke="#505050" stroke-width="0.1">100</text>
<text transform="translate(426.45,278.30) scale(1,1.1)" font-size="8.1" fill="#151515" text-anchor="middle" font-weight="bold" textLength="116.20" lengthAdjust="spacingAndGlyphs" stroke="#151515" stroke-width="0.35">Summer NE Weather Regimes</text>
<text transform="translate(292.00,281.20)" font-size="14.5" fill="#10121a" text-anchor="start" font-weight="bold" stroke="#10121a" stroke-width="0.35">d)</text>
<text transform="translate(317.20,360.80) rotate(-90) scale(1,1.1)" font-size="7.0" fill="#454545" text-anchor="middle" font-weight="normal" textLength="51.00" lengthAdjust="spacingAndGlyphs" stroke="#454545" stroke-width="0.22">significance in %</text>
<text transform="translate(432.40,461.80) scale(1,1.04)" font-size="8.1" fill="#454545" text-anchor="middle" font-weight="normal" textLength="76.70" lengthAdjust="spacingAndGlyphs" stroke="#454545" stroke-width="0.22">K, number of clusters</text>
</svg>
</body></html>
